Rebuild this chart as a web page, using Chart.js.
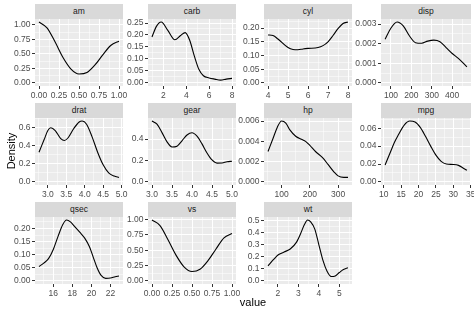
<!DOCTYPE html>
<html><head><meta charset="utf-8">
<script src="https://cdn.jsdelivr.net/npm/chart.js@4.4.1/dist/chart.umd.min.js"></script>
<style>
html,body{margin:0;padding:0;background:#fff;}
#wrap{position:relative;width:474px;height:325px;overflow:hidden;font-family:'Liberation Sans',Arial,sans-serif;}
.strip{position:absolute;background:#D9D9D9;color:#1A1A1A;font-size:8.5px;text-align:center;height:15px;line-height:15px;}
canvas{position:absolute;}
.axt{position:absolute;color:#000;font-size:11px;text-align:center;width:100px;height:14px;line-height:14px;white-space:nowrap;}
</style></head><body><div id="wrap"></div>
<script>
// ---- data (density estimates) ----
const panelNames = ['am','carb','cyl','disp','drat','gear','hp','mpg','qsec','vs','wt'];

const am_x = [0,0.1,0.2,0.3,0.4,0.5,0.6,0.7,0.8,0.9,1.0];
const am_y = [1.05,0.95,0.71,0.44,0.24,0.154,0.18,0.31,0.49,0.65,0.72];
const am_xlab = ['0.00','0.25','0.50','0.75','1.00'];
const am_ylab = ['0.00','0.25','0.50','0.75','1.00'];

const carb_x = [1,1.4,1.8,2.4,3,3.5,3.9,4.3,4.7,5.1,5.5,6,6.5,7,7.5,8];
const carb_y = [0.192,0.237,0.254,0.218,0.180,0.198,0.210,0.178,0.113,0.057,0.030,0.021,0.016,0.012,0.016,0.019];
const carb_xlab = ['2','4','6','8'];
const carb_ylab = ['0.00','0.05','0.10','0.15','0.20','0.25'];

const cyl_x = [4,4.25,4.5,5,5.25,5.5,5.75,6,6.5,6.75,7,7.25,7.5,7.75,8];
const cyl_y = [0.175,0.173,0.160,0.129,0.122,0.121,0.124,0.126,0.129,0.136,0.150,0.173,0.198,0.217,0.222];
const cyl_xlab = ['4','5','6','7','8'];
const cyl_ylab = ['0.00','0.05','0.10','0.15','0.20'];

const disp_x = [71.1,100,130,160,190,220,250,280,310,340,370,400,430,472];
const disp_y = [0.00222,0.0028,0.0031,0.0029,0.0024,0.00205,0.00202,0.00213,0.00218,0.0021,0.0018,0.0015,0.00125,0.00082];
const disp_xlab = ['100','200','300','400'];
const disp_ylab = ['0.000','0.001','0.002','0.003'];

const drat_x = [2.76,2.9,3.0,3.08,3.2,3.35,3.45,3.55,3.7,3.85,3.93,4.05,4.2,4.35,4.5,4.65,4.8,4.93];
const drat_y = [0.33,0.47,0.57,0.60,0.57,0.48,0.46,0.49,0.59,0.665,0.675,0.64,0.50,0.33,0.19,0.10,0.065,0.05];
const drat_xlab = ['3.0','3.5','4.0','4.5','5.0'];
const drat_ylab = ['0.0','0.2','0.4','0.6'];

const gear_x = [3,3.125,3.25,3.375,3.5,3.625,3.75,3.875,4,4.125,4.25,4.375,4.5,4.625,4.75,4.875,5];
const gear_y = [0.568,0.539,0.46,0.374,0.326,0.334,0.384,0.438,0.459,0.427,0.355,0.27,0.205,0.176,0.177,0.189,0.193];
const gear_xlab = ['3.0','3.5','4.0','4.5','5.0'];
const gear_ylab = ['0.0','0.2','0.4'];

const hp_x = [52,70,85,100,115,130,150,170,185,200,220,245,265,285,300,320,335];
const hp_y = [0.0030,0.0043,0.0054,0.0060,0.0058,0.0051,0.0045,0.0042,0.0040,0.0036,0.0030,0.0024,0.0017,0.0010,0.0006,0.00045,0.00045];
const hp_xlab = ['100','200','300'];
const hp_ylab = ['0.000','0.002','0.004','0.006'];

const mpg_x = [10.4,12,13,14,16,17.5,19,20.5,22,23.5,25,26.5,28,30,31.5,33,33.9];
const mpg_y = [0.019,0.034,0.0435,0.051,0.064,0.068,0.067,0.061,0.051,0.040,0.030,0.023,0.020,0.0195,0.0185,0.015,0.013];
const mpg_xlab = ['10','15','20','25','30','35'];
const mpg_ylab = ['0.00','0.02','0.04','0.06'];

const qsec_x = [14.5,15,15.5,16,16.5,17,17.4,17.8,18.3,18.8,19.3,19.8,20.2,20.6,21,21.5,22,22.5,22.9];
const qsec_y = [0.055,0.068,0.085,0.12,0.17,0.215,0.232,0.225,0.205,0.185,0.163,0.13,0.09,0.05,0.022,0.01,0.011,0.016,0.019];
const qsec_xlab = ['16','18','20','22'];
const qsec_ylab = ['0.00','0.05','0.10','0.15','0.20'];

const vs_x = [0,0.1,0.2,0.3,0.4,0.5,0.6,0.7,0.8,0.9,1.0];
const vs_y = [0.99,0.90,0.67,0.42,0.23,0.153,0.19,0.33,0.52,0.70,0.77];
const vs_xlab = ['0.00','0.25','0.50','0.75','1.00'];
const vs_ylab = ['0.00','0.25','0.50','0.75','1.00'];

const wt_x = [1.513,1.8,2.0,2.3,2.6,2.9,3.1,3.3,3.45,3.6,3.8,4.0,4.2,4.4,4.6,4.8,5.0,5.2,5.424];
const wt_y = [0.125,0.18,0.215,0.24,0.265,0.32,0.39,0.47,0.505,0.49,0.43,0.30,0.17,0.08,0.037,0.042,0.07,0.095,0.11];
const wt_xlab = ['2','3','4','5'];
const wt_ylab = ['0.0','0.1','0.2','0.3','0.4','0.5'];

const xTitle = 'value';
const yTitle = 'Density';

// ---- layout ----
const panels = [
  {name:'am', x:am_x, y:am_y, xl:am_xlab, yl:am_ylab},
  {name:'carb', x:carb_x, y:carb_y, xl:carb_xlab, yl:carb_ylab},
  {name:'cyl', x:cyl_x, y:cyl_y, xl:cyl_xlab, yl:cyl_ylab},
  {name:'disp', x:disp_x, y:disp_y, xl:disp_xlab, yl:disp_ylab},
  {name:'drat', x:drat_x, y:drat_y, xl:drat_xlab, yl:drat_ylab},
  {name:'gear', x:gear_x, y:gear_y, xl:gear_xlab, yl:gear_ylab},
  {name:'hp', x:hp_x, y:hp_y, xl:hp_xlab, yl:hp_ylab},
  {name:'mpg', x:mpg_x, y:mpg_y, xl:mpg_xlab, yl:mpg_ylab},
  {name:'qsec', x:qsec_x, y:qsec_y, xl:qsec_xlab, yl:qsec_ylab},
  {name:'vs', x:vs_x, y:vs_y, xl:vs_xlab, yl:vs_ylab},
  {name:'wt', x:wt_x, y:wt_y, xl:wt_xlab, yl:wt_ylab}
];
const colLeft = [35,148,264,381], colW = [88,88,88,90];
const stripTop = [4,103,202], stripH = 15, plotH = 67;
const yW = 30, padTop = 6, padRight = 14, xH = 16;
const FONT = "'Liberation Sans', Arial, sans-serif";

function makeTicks(labels, min, max) {
  const major = labels.map(parseFloat);
  const step = major.length > 1 ? major[1] - major[0] : 1;
  const out = [];
  major.forEach((v, i) => { if (v >= min && v <= max) out.push({value: v, lab: labels[i]}); });
  const ext = [major[0] - step].concat(major, [major[major.length - 1] + step]);
  for (let i = 0; i < ext.length - 1; i++) {
    const m = (ext[i] + ext[i + 1]) / 2;
    if (m >= min && m <= max) out.push({value: m, minor: true, lab: ''});
  }
  out.sort((a, b) => a.value - b.value);
  return out;
}

const bgPlugin = {
  id: 'panelBg',
  beforeDraw(chart) {
    const a = chart.chartArea, c = chart.ctx;
    c.save(); c.fillStyle = '#EBEBEB';
    c.fillRect(a.left, a.top, a.right - a.left, a.bottom - a.top);
    c.restore();
  }
};

const wrap = document.getElementById('wrap');

panels.forEach((p, idx) => {
  const col = idx % 4, row = Math.floor(idx / 4);
  const pl = colLeft[col], pw = colW[col];
  const st = stripTop[row], pt = st + stripH;

  const strip = document.createElement('div');
  strip.className = 'strip';
  strip.style.left = pl + 'px'; strip.style.top = st + 'px'; strip.style.width = pw + 'px';
  strip.textContent = p.name;
  wrap.appendChild(strip);

  const cv = document.createElement('canvas');
  const cw = yW + pw + padRight, ch = padTop + plotH + xH;
  cv.width = cw; cv.height = ch;
  cv.style.width = cw + 'px'; cv.style.height = ch + 'px';
  cv.style.left = (pl - yW) + 'px'; cv.style.top = (pt - padTop) + 'px';
  wrap.appendChild(cv);

  const xmin = Math.min(...p.x), xmax = Math.max(...p.x), xs = xmax - xmin;
  const ymax = Math.max(...p.y);
  const xr = [xmin - 0.05 * xs, xmax + 0.05 * xs];
  const yr = [-0.05 * ymax, 1.05 * ymax];

  const gridOpts = {
    color: '#FFFFFF',
    lineWidth: c => (c.tick && c.tick.minor) ? 0.5 : 1,
    drawTicks: true,
    tickLength: 3,
    tickWidth: 1,
    tickColor: c => (c.tick && c.tick.minor) ? 'rgba(0,0,0,0)' : '#333333'
  };
  const tickOpts = {
    color: '#4D4D4D', font: {family: FONT, size: 8.5},
    autoSkip: false, maxRotation: 0, minRotation: 0, padding: 1.5,
    callback: (v, i, t) => t[i].lab
  };

  new Chart(cv, {
    type: 'line',
    data: {datasets: [{
      data: p.x.map((x, i) => ({x: x, y: p.y[i]})),
      borderColor: '#000000', borderWidth: 1.1, pointRadius: 0,
      fill: false, cubicInterpolationMode: 'monotone'
    }]},
    options: {
      responsive: false, animation: false, devicePixelRatio: 1, events: [],
      layout: {padding: {left: 0, top: padTop, right: padRight, bottom: 0}, autoPadding: false},
      plugins: {legend: {display: false}, tooltip: {enabled: false}, title: {display: false}},
      scales: {
        x: {
          type: 'linear', position: 'bottom', min: xr[0], max: xr[1], bounds: 'data',
          grid: gridOpts, border: {display: false}, ticks: tickOpts,
          afterBuildTicks: s => { s.ticks = makeTicks(p.xl, xr[0], xr[1]); },
          afterFit: s => { s.height = xH; s.paddingLeft = 0; s.paddingRight = 0; }
        },
        y: {
          type: 'linear', position: 'left', min: yr[0], max: yr[1], bounds: 'data',
          grid: gridOpts, border: {display: false}, ticks: tickOpts,
          afterBuildTicks: s => { s.ticks = makeTicks(p.yl, yr[0], yr[1]); },
          afterFit: s => { s.width = yW; s.paddingTop = 0; s.paddingBottom = 0; }
        }
      }
    },
    plugins: [bgPlugin]
  });
});

const yt = document.createElement('div');
yt.className = 'axt'; yt.textContent = yTitle;
yt.style.left = (10.5 - 50) + 'px'; yt.style.top = (151 - 7) + 'px';
yt.style.transform = 'rotate(-90deg)';
wrap.appendChild(yt);

const xt = document.createElement('div');
xt.className = 'axt'; xt.textContent = xTitle;
xt.style.left = (253 - 50) + 'px'; xt.style.top = (302 - 7) + 'px';
wrap.appendChild(xt);
</script></body></html>
